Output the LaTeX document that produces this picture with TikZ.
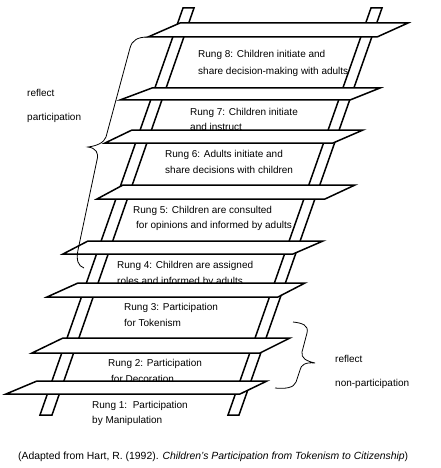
\documentclass[tikz,border=0pt]{standalone}
\usepackage{fontspec}
\setmainfont{Liberation Sans}
\begin{document}
\begin{tikzpicture}[x=1pt,y=-1pt,
  rail/.style={draw,fill=white,line width=1.5pt,line join=miter},
  rungbox/.style={draw,fill=white,line width=1.5pt,line join=miter},
  lbl/.style={anchor=base west,inner sep=0pt,font=\fontsize{10}{12}\selectfont},
  bracepath/.style={draw,line width=0.8pt}]
\useasboundingbox (0,0) rectangle (441,468);

% rung texts
\node[lbl] (t8a) at (198,58) {Rung 8: Children initiate and};
\node[lbl] (t8b) at (198,75) {share decision-making with adults};
\node[lbl] (t7a) at (190,115) {Rung 7: Children initiate};
\node[lbl] (t7b) at (190,130) {and instruct};
\node[lbl] (t6a) at (165,157) {Rung 6: Adults initiate and};
\node[lbl] (t6b) at (165,173) {share decisions with children};
\node[lbl] (t5a) at (133,213) {Rung 5: Children are consulted};
\node[lbl] (t5b) at (136,228) {for opinions and informed by adults};
\node[lbl] (t4a) at (117,268) {Rung 4: Children are assigned};
\node[lbl] (t4b) at (117,284) {roles and informed by adults};
\node[lbl] (t3a) at (124,310) {Rung 3: Participation};
\node[lbl] (t3b) at (124,326) {for Tokenism};
\node[lbl] (t2a) at (108,366) {Rung 2: Participation};
\node[lbl] (t2b) at (111,382) {for Decoration};
\node[lbl] (t1a) at (92,408) {Rung 1:\ \ Participation};
\node[lbl] (t1b) at (92,423) {by Manipulation};

% rails
\path[rail] (183,8) -- (194,8) -- (52,415) -- (40,415) -- cycle;
\path[rail] (371,8) -- (382,8) -- (239,415) -- (228,415) -- cycle;

% rungs
\path[rungbox] (180,23) -- (408,23) -- (377,37) -- (148,37) -- cycle;
\path[rungbox] (152,88) -- (380,88) -- (350,100) -- (120,100) -- cycle;
\path[rungbox] (132,130) -- (363,130) -- (333,143) -- (105,143) -- cycle;
\path[rungbox] (123,185) -- (355,185) -- (325,199) -- (97,199) -- cycle;
\path[rungbox] (88,241) -- (323,241) -- (293,254) -- (63,254) -- cycle;
\path[rungbox] (78,283) -- (305,283) -- (278,297) -- (47,297) -- cycle;
\path[rungbox] (63,338) -- (290,338) -- (260,353) -- (32,353) -- cycle;
\path[rungbox] (37,381) -- (267,381) -- (240,394) -- (6,394) -- cycle;

% braces
\path[bracepath] (148,37) .. controls (138,37) and (132,40) .. (130,48)
  -- (106,137) .. controls (104,143) and (96,146) .. (88,147)
  .. controls (96,148) and (99,153) .. (97,160)
  -- (78,250) .. controls (76,260) and (78,266) .. (84,268);
\path[bracepath] (293,322) .. controls (302,323) and (309,325) .. (307,333)
  -- (302,352) .. controls (301,358) and (306,361) .. (315,363)
  .. controls (305,362) and (301,365) .. (300,370)
  -- (296,382) .. controls (294,388) and (285,389) .. (275,388);

% side labels
\node[lbl] (lp1) at (27,97) {reflect};
\node[lbl] (lp2) at (27,121) {participation};
\node[lbl] (rn1) at (335,362) {reflect};
\node[lbl] (rn2) at (335,386) {non-participation};

% caption
\node[lbl,font=\fontsize{10.4}{12}\selectfont] (cap) at (18,459) {(Adapted from Hart, R. (1992). \textit{Children's Participation from Tokenism to Citizenship})};
\end{tikzpicture}
\end{document}
